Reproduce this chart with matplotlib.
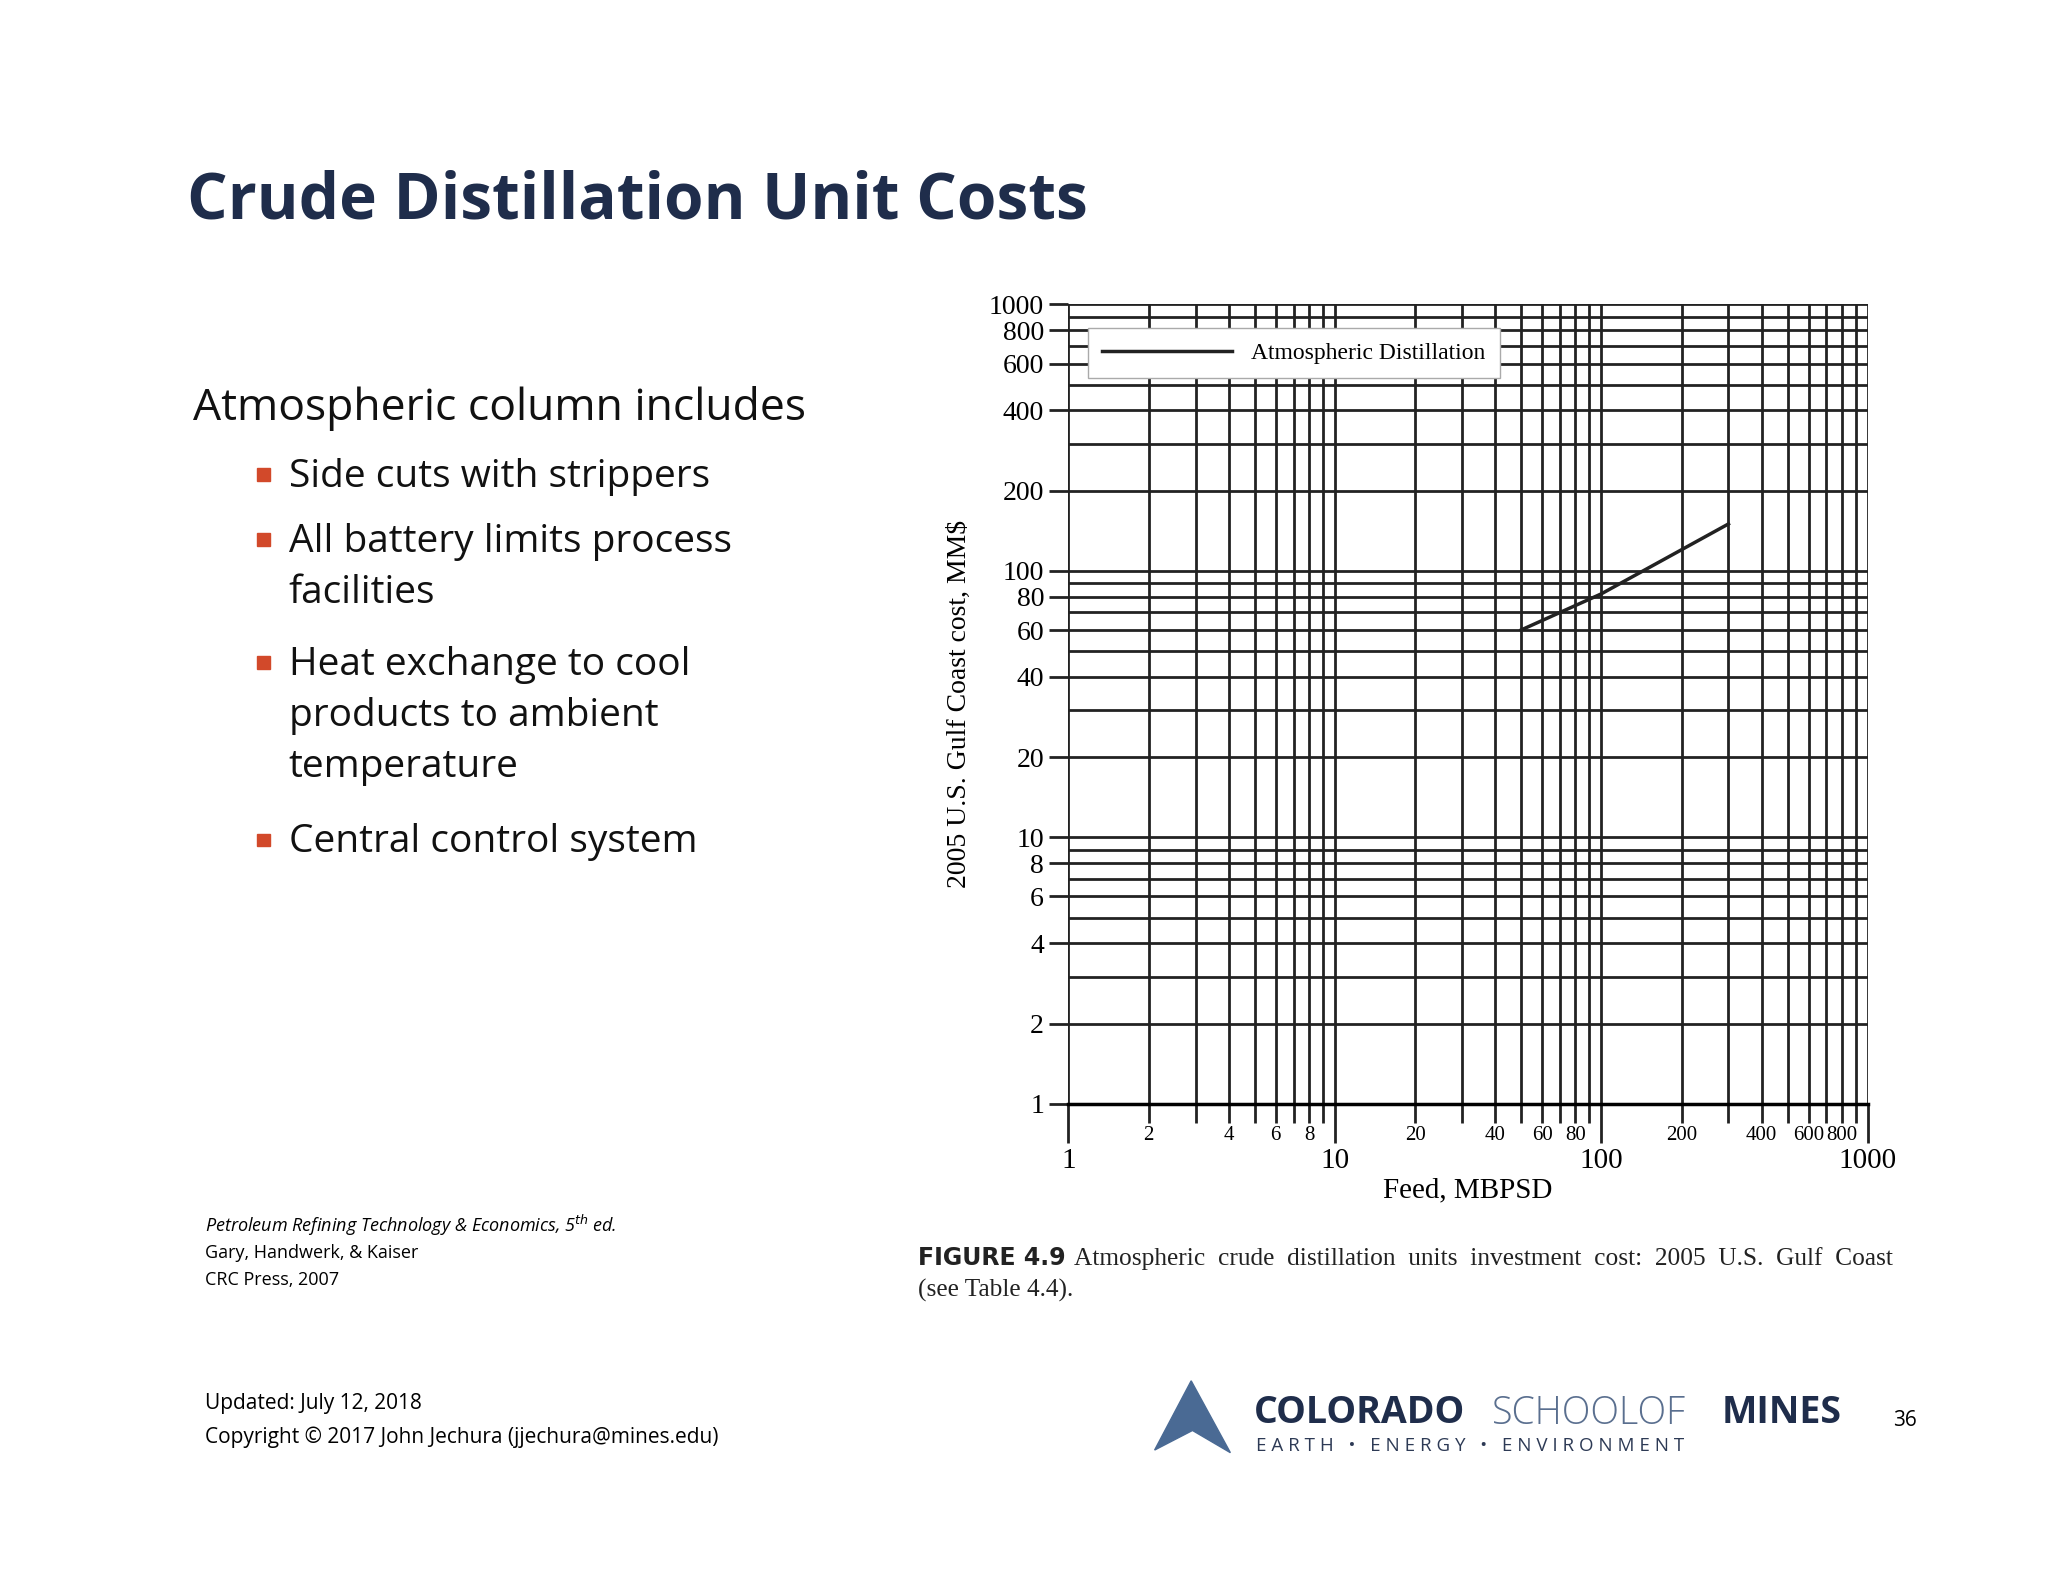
import matplotlib
matplotlib.use("Agg")
import matplotlib.pyplot as plt
from matplotlib.ticker import FixedLocator, NullFormatter, FixedFormatter
from matplotlib.patches import Rectangle, Polygon

feed = [50, 100, 300]
cost = [60, 82, 150]
x_major = [1, 10, 100, 1000]
x_minor_labels = [2, 4, 6, 8, 20, 40, 60, 80, 200, 400, 600, 800]
y_labels = [1, 2, 4, 6, 8, 10, 20, 40, 60, 80, 100, 200, 400, 600, 800, 1000]
bullets = ["Side cuts with strippers", "All battery limits process\nfacilities",
           "Heat exchange to cool\nproducts to ambient\ntemperature", "Central control system"]

W, H = 1568.0, 1211.0
def fx(x): return x / W
def fy(y): return 1 - y / H

fig = plt.figure(figsize=(20.48, 15.82), dpi=100)
fig.patch.set_facecolor("white")
serif = "Liberation Serif"
navy = "#1f2d4b"

fig.text(fx(143), fy(155), "Crude Distillation Unit Costs", fontsize=46, fontweight="bold",
         color=navy, family="Open Sans", va="center")
fig.text(fx(148), fy(313), "Atmospheric column includes", fontsize=32, color="#111111",
         family="Open Sans", va="center")
ys = [363, 413, 507, 643]
for b, y in zip(bullets, ys):
    fig.patches.append(Rectangle((fx(197), fy(y) - 0.004), 0.0062, 0.008, transform=fig.transFigure,
                                 color="#d2492a"))
    fig.text(fx(221), fy(y) + 0.0105, b, fontsize=28, color="#111111", family="Open Sans",
             va="top", linespacing=1.45)

fig.text(fx(157), fy(938), r"Petroleum Refining Technology & Economics, 5$^{th}$ ed.", fontsize=13,
         style="italic", family="Open Sans", va="center")
fig.text(fx(157), fy(959), "Gary, Handwerk, & Kaiser", fontsize=13, family="Open Sans", va="center")
fig.text(fx(157), fy(980), "CRC Press, 2007", fontsize=13, family="Open Sans", va="center")
fig.text(fx(157), fy(1074), "Updated: July 12, 2018", fontsize=15, family="Open Sans", va="center")
fig.text(fx(157), fy(1100), "Copyright © 2017 John Jechura (jjechura@mines.edu)", fontsize=15,
         family="Open Sans", va="center")
fig.text(fx(1449), fy(1087), "36", fontsize=15, family="Open Sans", va="center")

# logo
fig.patches.append(Polygon([(fx(884), fy(1110)), (fx(912), fy(1057)), (fx(942), fy(1112)),
                            (fx(913), fy(1095))], closed=True, transform=fig.transFigure,
                           color="#4a6a94"))
fig.text(fx(960), fy(1082), "COLORADO", fontsize=27, fontweight="bold", color=navy,
         family="Open Sans", va="center")
fig.text(fx(1142), fy(1082), "SCHOOLOF", fontsize=27, color="#5a6f8f", family="Open Sans",
         va="center", fontweight="light")
fig.text(fx(1318), fy(1082), "MINES", fontsize=27, fontweight="bold", color=navy,
         family="Open Sans", va="center")
fig.text(fx(962), fy(1107), "E A R T H   •   E N E R G Y   •   E N V I R O N M E N T", fontsize=13.5,
         color="#2d3a55", family="Open Sans", va="center")

# caption
fig.text(fx(703), fy(963), "FIGURE 4.9", fontsize=17, fontweight="bold", family="DejaVu Sans",
         va="center", color="#222")
fig.text(fx(822), fy(963), "Atmospheric  crude  distillation  units  investment  cost:  2005  U.S.  Gulf  Coast",
         fontsize=18.3, family=serif, va="center", color="#222")
fig.text(fx(703), fy(988), "(see Table 4.4).", fontsize=18.3, family=serif, va="center", color="#222")

ax = fig.add_axes([fx(818), fy(845), fx(1430) - fx(818), fy(233) - fy(845)])
ax.set_xscale("log"); ax.set_yscale("log")
ax.set_xlim(1, 1000); ax.set_ylim(1, 1000)
ax.plot(feed, cost, color="#222", lw=2.5, label="Atmospheric Distillation", zorder=5)
ax.grid(which="both", color="#222", lw=2)
for s in ["top", "right"]:
    ax.spines[s].set_visible(False)
ax.spines["left"].set_visible(False)
ax.spines["bottom"].set_linewidth(2.5)

ax.xaxis.set_major_locator(FixedLocator(x_major))
ax.xaxis.set_major_formatter(FixedFormatter([str(v) for v in x_major]))
ax.xaxis.set_minor_formatter(plt.FuncFormatter(lambda v, p: str(int(round(v))) if int(round(v)) in x_minor_labels else ""))
ax.tick_params(axis="x", which="major", length=28, width=2, labelsize=21, pad=4, color="#222")
ax.tick_params(axis="x", which="minor", length=14, width=2, labelsize=15, pad=2, color="#222")
for lab in ax.get_xticklabels() + ax.get_xticklabels(minor=True):
    lab.set_family(serif)

ax.yaxis.set_major_locator(FixedLocator(y_labels))
ax.yaxis.set_major_formatter(FixedFormatter([str(v) for v in y_labels]))
ax.yaxis.set_minor_formatter(NullFormatter())
ax.tick_params(axis="y", which="major", length=14, width=2, labelsize=20, color="#222")
ax.tick_params(axis="y", which="minor", length=0)
for lab in ax.get_yticklabels():
    lab.set_family(serif)
ax.set_xlabel("Feed, MBPSD", family=serif, fontsize=21, labelpad=2)
ax.set_ylabel("2005 U.S. Gulf Coast cost, MM$", family=serif, fontsize=20, labelpad=12)

leg = ax.legend(loc="upper left", bbox_to_anchor=(0.01, 0.985), frameon=True, fancybox=False,
                prop={"family": serif, "size": 17}, handlelength=5.5, borderpad=0.6)
leg.get_frame().set_edgecolor("#aaa")
leg.get_frame().set_alpha(1)

fig.savefig("out.png", dpi=100)
